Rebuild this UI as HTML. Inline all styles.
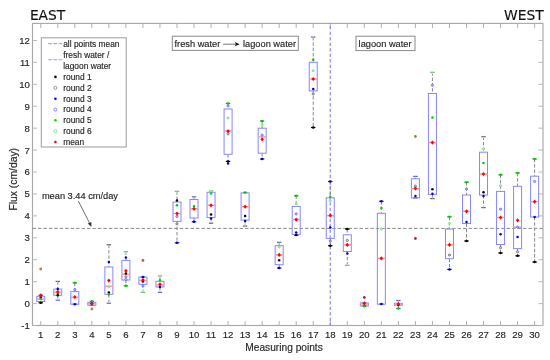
<!DOCTYPE html>
<html><head><meta charset="utf-8"><style>
html,body{margin:0;padding:0;background:#fff;}
svg{display:block;}
text{font-family:"Liberation Sans",Arial,sans-serif;fill:#262626;stroke:#262626;stroke-width:0.15px;}
.tk{font-size:9.6px;}
.lg{font-size:8.4px;}
.an{font-size:9.25px;}
.lab{font-size:10.1px;}
.big{font-size:14.4px;fill:#111;stroke:#111;stroke-width:0.15px;font-family:"DejaVu Sans",sans-serif;}
</style></head><body>
<svg width="550" height="360" viewBox="0 0 550 360">
<rect width="550" height="360" fill="#fff"/>
<rect x="32.5" y="23.4" width="510.5" height="302.1" fill="#fff" stroke="#a8a8a8" stroke-width="1.15"/>
<line x1="32.5" y1="325.53" x2="37.0" y2="325.53" stroke="#b8b8b8" stroke-width="1"/>
<line x1="543.0" y1="325.53" x2="538.5" y2="325.53" stroke="#b8b8b8" stroke-width="1"/>
<text x="29.9" y="328.98" text-anchor="end" class="tk">-1</text>
<line x1="32.5" y1="303.60" x2="37.0" y2="303.60" stroke="#b8b8b8" stroke-width="1"/>
<line x1="543.0" y1="303.60" x2="538.5" y2="303.60" stroke="#b8b8b8" stroke-width="1"/>
<text x="29.9" y="307.05" text-anchor="end" class="tk">0</text>
<line x1="32.5" y1="281.67" x2="37.0" y2="281.67" stroke="#b8b8b8" stroke-width="1"/>
<line x1="543.0" y1="281.67" x2="538.5" y2="281.67" stroke="#b8b8b8" stroke-width="1"/>
<text x="29.9" y="285.12" text-anchor="end" class="tk">1</text>
<line x1="32.5" y1="259.74" x2="37.0" y2="259.74" stroke="#b8b8b8" stroke-width="1"/>
<line x1="543.0" y1="259.74" x2="538.5" y2="259.74" stroke="#b8b8b8" stroke-width="1"/>
<text x="29.9" y="263.19" text-anchor="end" class="tk">2</text>
<line x1="32.5" y1="237.81" x2="37.0" y2="237.81" stroke="#b8b8b8" stroke-width="1"/>
<line x1="543.0" y1="237.81" x2="538.5" y2="237.81" stroke="#b8b8b8" stroke-width="1"/>
<text x="29.9" y="241.26" text-anchor="end" class="tk">3</text>
<line x1="32.5" y1="215.88" x2="37.0" y2="215.88" stroke="#b8b8b8" stroke-width="1"/>
<line x1="543.0" y1="215.88" x2="538.5" y2="215.88" stroke="#b8b8b8" stroke-width="1"/>
<text x="29.9" y="219.33" text-anchor="end" class="tk">4</text>
<line x1="32.5" y1="193.95" x2="37.0" y2="193.95" stroke="#b8b8b8" stroke-width="1"/>
<line x1="543.0" y1="193.95" x2="538.5" y2="193.95" stroke="#b8b8b8" stroke-width="1"/>
<text x="29.9" y="197.40" text-anchor="end" class="tk">5</text>
<line x1="32.5" y1="172.02" x2="37.0" y2="172.02" stroke="#b8b8b8" stroke-width="1"/>
<line x1="543.0" y1="172.02" x2="538.5" y2="172.02" stroke="#b8b8b8" stroke-width="1"/>
<text x="29.9" y="175.47" text-anchor="end" class="tk">6</text>
<line x1="32.5" y1="150.09" x2="37.0" y2="150.09" stroke="#b8b8b8" stroke-width="1"/>
<line x1="543.0" y1="150.09" x2="538.5" y2="150.09" stroke="#b8b8b8" stroke-width="1"/>
<text x="29.9" y="153.54" text-anchor="end" class="tk">7</text>
<line x1="32.5" y1="128.16" x2="37.0" y2="128.16" stroke="#b8b8b8" stroke-width="1"/>
<line x1="543.0" y1="128.16" x2="538.5" y2="128.16" stroke="#b8b8b8" stroke-width="1"/>
<text x="29.9" y="131.61" text-anchor="end" class="tk">8</text>
<line x1="32.5" y1="106.23" x2="37.0" y2="106.23" stroke="#b8b8b8" stroke-width="1"/>
<line x1="543.0" y1="106.23" x2="538.5" y2="106.23" stroke="#b8b8b8" stroke-width="1"/>
<text x="29.9" y="109.68" text-anchor="end" class="tk">9</text>
<line x1="32.5" y1="84.30" x2="37.0" y2="84.30" stroke="#b8b8b8" stroke-width="1"/>
<line x1="543.0" y1="84.30" x2="538.5" y2="84.30" stroke="#b8b8b8" stroke-width="1"/>
<text x="29.9" y="87.75" text-anchor="end" class="tk">10</text>
<line x1="32.5" y1="62.37" x2="37.0" y2="62.37" stroke="#b8b8b8" stroke-width="1"/>
<line x1="543.0" y1="62.37" x2="538.5" y2="62.37" stroke="#b8b8b8" stroke-width="1"/>
<text x="29.9" y="65.82" text-anchor="end" class="tk">11</text>
<line x1="32.5" y1="40.44" x2="37.0" y2="40.44" stroke="#b8b8b8" stroke-width="1"/>
<line x1="543.0" y1="40.44" x2="538.5" y2="40.44" stroke="#b8b8b8" stroke-width="1"/>
<text x="29.9" y="43.89" text-anchor="end" class="tk">12</text>
<line x1="40.75" y1="325.5" x2="40.75" y2="321.0" stroke="#b0b0b0" stroke-width="1"/>
<line x1="40.75" y1="23.4" x2="40.75" y2="27.9" stroke="#b0b0b0" stroke-width="1"/>
<text x="40.75" y="338.1" text-anchor="middle" class="tk">1</text>
<line x1="57.78" y1="325.5" x2="57.78" y2="321.0" stroke="#b0b0b0" stroke-width="1"/>
<line x1="57.78" y1="23.4" x2="57.78" y2="27.9" stroke="#b0b0b0" stroke-width="1"/>
<text x="57.78" y="338.1" text-anchor="middle" class="tk">2</text>
<line x1="74.81" y1="325.5" x2="74.81" y2="321.0" stroke="#b0b0b0" stroke-width="1"/>
<line x1="74.81" y1="23.4" x2="74.81" y2="27.9" stroke="#b0b0b0" stroke-width="1"/>
<text x="74.81" y="338.1" text-anchor="middle" class="tk">3</text>
<line x1="91.84" y1="325.5" x2="91.84" y2="321.0" stroke="#b0b0b0" stroke-width="1"/>
<line x1="91.84" y1="23.4" x2="91.84" y2="27.9" stroke="#b0b0b0" stroke-width="1"/>
<text x="91.84" y="338.1" text-anchor="middle" class="tk">4</text>
<line x1="108.87" y1="325.5" x2="108.87" y2="321.0" stroke="#b0b0b0" stroke-width="1"/>
<line x1="108.87" y1="23.4" x2="108.87" y2="27.9" stroke="#b0b0b0" stroke-width="1"/>
<text x="108.87" y="338.1" text-anchor="middle" class="tk">5</text>
<line x1="125.90" y1="325.5" x2="125.90" y2="321.0" stroke="#b0b0b0" stroke-width="1"/>
<line x1="125.90" y1="23.4" x2="125.90" y2="27.9" stroke="#b0b0b0" stroke-width="1"/>
<text x="125.90" y="338.1" text-anchor="middle" class="tk">6</text>
<line x1="142.93" y1="325.5" x2="142.93" y2="321.0" stroke="#b0b0b0" stroke-width="1"/>
<line x1="142.93" y1="23.4" x2="142.93" y2="27.9" stroke="#b0b0b0" stroke-width="1"/>
<text x="142.93" y="338.1" text-anchor="middle" class="tk">7</text>
<line x1="159.96" y1="325.5" x2="159.96" y2="321.0" stroke="#b0b0b0" stroke-width="1"/>
<line x1="159.96" y1="23.4" x2="159.96" y2="27.9" stroke="#b0b0b0" stroke-width="1"/>
<text x="159.96" y="338.1" text-anchor="middle" class="tk">8</text>
<line x1="176.99" y1="325.5" x2="176.99" y2="321.0" stroke="#b0b0b0" stroke-width="1"/>
<line x1="176.99" y1="23.4" x2="176.99" y2="27.9" stroke="#b0b0b0" stroke-width="1"/>
<text x="176.99" y="338.1" text-anchor="middle" class="tk">9</text>
<line x1="194.02" y1="325.5" x2="194.02" y2="321.0" stroke="#b0b0b0" stroke-width="1"/>
<line x1="194.02" y1="23.4" x2="194.02" y2="27.9" stroke="#b0b0b0" stroke-width="1"/>
<text x="194.02" y="338.1" text-anchor="middle" class="tk">10</text>
<line x1="211.05" y1="325.5" x2="211.05" y2="321.0" stroke="#b0b0b0" stroke-width="1"/>
<line x1="211.05" y1="23.4" x2="211.05" y2="27.9" stroke="#b0b0b0" stroke-width="1"/>
<text x="211.05" y="338.1" text-anchor="middle" class="tk">11</text>
<line x1="228.08" y1="325.5" x2="228.08" y2="321.0" stroke="#b0b0b0" stroke-width="1"/>
<line x1="228.08" y1="23.4" x2="228.08" y2="27.9" stroke="#b0b0b0" stroke-width="1"/>
<text x="228.08" y="338.1" text-anchor="middle" class="tk">12</text>
<line x1="245.11" y1="325.5" x2="245.11" y2="321.0" stroke="#b0b0b0" stroke-width="1"/>
<line x1="245.11" y1="23.4" x2="245.11" y2="27.9" stroke="#b0b0b0" stroke-width="1"/>
<text x="245.11" y="338.1" text-anchor="middle" class="tk">13</text>
<line x1="262.14" y1="325.5" x2="262.14" y2="321.0" stroke="#b0b0b0" stroke-width="1"/>
<line x1="262.14" y1="23.4" x2="262.14" y2="27.9" stroke="#b0b0b0" stroke-width="1"/>
<text x="262.14" y="338.1" text-anchor="middle" class="tk">14</text>
<line x1="279.17" y1="325.5" x2="279.17" y2="321.0" stroke="#b0b0b0" stroke-width="1"/>
<line x1="279.17" y1="23.4" x2="279.17" y2="27.9" stroke="#b0b0b0" stroke-width="1"/>
<text x="279.17" y="338.1" text-anchor="middle" class="tk">15</text>
<line x1="296.20" y1="325.5" x2="296.20" y2="321.0" stroke="#b0b0b0" stroke-width="1"/>
<line x1="296.20" y1="23.4" x2="296.20" y2="27.9" stroke="#b0b0b0" stroke-width="1"/>
<text x="296.20" y="338.1" text-anchor="middle" class="tk">16</text>
<line x1="313.23" y1="325.5" x2="313.23" y2="321.0" stroke="#b0b0b0" stroke-width="1"/>
<line x1="313.23" y1="23.4" x2="313.23" y2="27.9" stroke="#b0b0b0" stroke-width="1"/>
<text x="313.23" y="338.1" text-anchor="middle" class="tk">17</text>
<line x1="330.26" y1="325.5" x2="330.26" y2="321.0" stroke="#b0b0b0" stroke-width="1"/>
<line x1="330.26" y1="23.4" x2="330.26" y2="27.9" stroke="#b0b0b0" stroke-width="1"/>
<text x="330.26" y="338.1" text-anchor="middle" class="tk">18</text>
<line x1="347.29" y1="325.5" x2="347.29" y2="321.0" stroke="#b0b0b0" stroke-width="1"/>
<line x1="347.29" y1="23.4" x2="347.29" y2="27.9" stroke="#b0b0b0" stroke-width="1"/>
<text x="347.29" y="338.1" text-anchor="middle" class="tk">19</text>
<line x1="364.32" y1="325.5" x2="364.32" y2="321.0" stroke="#b0b0b0" stroke-width="1"/>
<line x1="364.32" y1="23.4" x2="364.32" y2="27.9" stroke="#b0b0b0" stroke-width="1"/>
<text x="364.32" y="338.1" text-anchor="middle" class="tk">20</text>
<line x1="381.35" y1="325.5" x2="381.35" y2="321.0" stroke="#b0b0b0" stroke-width="1"/>
<line x1="381.35" y1="23.4" x2="381.35" y2="27.9" stroke="#b0b0b0" stroke-width="1"/>
<text x="381.35" y="338.1" text-anchor="middle" class="tk">21</text>
<line x1="398.38" y1="325.5" x2="398.38" y2="321.0" stroke="#b0b0b0" stroke-width="1"/>
<line x1="398.38" y1="23.4" x2="398.38" y2="27.9" stroke="#b0b0b0" stroke-width="1"/>
<text x="398.38" y="338.1" text-anchor="middle" class="tk">22</text>
<line x1="415.41" y1="325.5" x2="415.41" y2="321.0" stroke="#b0b0b0" stroke-width="1"/>
<line x1="415.41" y1="23.4" x2="415.41" y2="27.9" stroke="#b0b0b0" stroke-width="1"/>
<text x="415.41" y="338.1" text-anchor="middle" class="tk">23</text>
<line x1="432.44" y1="325.5" x2="432.44" y2="321.0" stroke="#b0b0b0" stroke-width="1"/>
<line x1="432.44" y1="23.4" x2="432.44" y2="27.9" stroke="#b0b0b0" stroke-width="1"/>
<text x="432.44" y="338.1" text-anchor="middle" class="tk">24</text>
<line x1="449.47" y1="325.5" x2="449.47" y2="321.0" stroke="#b0b0b0" stroke-width="1"/>
<line x1="449.47" y1="23.4" x2="449.47" y2="27.9" stroke="#b0b0b0" stroke-width="1"/>
<text x="449.47" y="338.1" text-anchor="middle" class="tk">25</text>
<line x1="466.50" y1="325.5" x2="466.50" y2="321.0" stroke="#b0b0b0" stroke-width="1"/>
<line x1="466.50" y1="23.4" x2="466.50" y2="27.9" stroke="#b0b0b0" stroke-width="1"/>
<text x="466.50" y="338.1" text-anchor="middle" class="tk">26</text>
<line x1="483.53" y1="325.5" x2="483.53" y2="321.0" stroke="#b0b0b0" stroke-width="1"/>
<line x1="483.53" y1="23.4" x2="483.53" y2="27.9" stroke="#b0b0b0" stroke-width="1"/>
<text x="483.53" y="338.1" text-anchor="middle" class="tk">27</text>
<line x1="500.56" y1="325.5" x2="500.56" y2="321.0" stroke="#b0b0b0" stroke-width="1"/>
<line x1="500.56" y1="23.4" x2="500.56" y2="27.9" stroke="#b0b0b0" stroke-width="1"/>
<text x="500.56" y="338.1" text-anchor="middle" class="tk">28</text>
<line x1="517.59" y1="325.5" x2="517.59" y2="321.0" stroke="#b0b0b0" stroke-width="1"/>
<line x1="517.59" y1="23.4" x2="517.59" y2="27.9" stroke="#b0b0b0" stroke-width="1"/>
<text x="517.59" y="338.1" text-anchor="middle" class="tk">29</text>
<line x1="534.62" y1="325.5" x2="534.62" y2="321.0" stroke="#b0b0b0" stroke-width="1"/>
<line x1="534.62" y1="23.4" x2="534.62" y2="27.9" stroke="#b0b0b0" stroke-width="1"/>
<text x="534.62" y="338.1" text-anchor="middle" class="tk">30</text>
<line x1="32.5" y1="228.4" x2="543.0" y2="228.4" stroke="#8a8a8a" stroke-width="1" stroke-dasharray="3.45 2.0"/>
<line x1="330.2" y1="23.4" x2="330.2" y2="325.5" stroke="#6c6cf4" stroke-width="0.95" stroke-dasharray="3.3 2.2" stroke-dashoffset="2.7"/>
<line x1="40.75" y1="295.3" x2="40.75" y2="296.3" stroke="#888888" stroke-width="1" stroke-dasharray="3.4 1.9"/>
<line x1="40.75" y1="301.5" x2="40.75" y2="302.8" stroke="#888888" stroke-width="1" stroke-dasharray="3.4 1.9"/>
<line x1="38.55" y1="295.3" x2="42.95" y2="295.3" stroke="#4a4a4a" stroke-width="1.2"/>
<line x1="38.55" y1="302.8" x2="42.95" y2="302.8" stroke="#000000" stroke-width="1.2"/>
<rect x="36.75" y="296.3" width="8.0" height="5.20" fill="none" stroke="#8686ff" stroke-width="1"/>
<line x1="36.75" y1="299.1" x2="44.75" y2="299.1" stroke="#ff9a9a" stroke-width="1.5"/>
<circle cx="40.75" cy="269.0" r="1.4" fill="#c08040"/>
<circle cx="40.75" cy="297.60" r="1.25" fill="#0000d0"/>
<circle cx="40.75" cy="299.10" r="1.25" fill="#00cc00"/>
<circle cx="40.75" cy="302.80" r="1.25" fill="#000000"/>
<path d="M40.75 293.20 L42.50 295.30 L40.75 297.40 L39.00 295.30 Z" fill="#ff0000"/>
<line x1="57.78" y1="281.4" x2="57.78" y2="289.1" stroke="#888888" stroke-width="1" stroke-dasharray="3.4 1.9"/>
<line x1="57.78" y1="295.3" x2="57.78" y2="300.2" stroke="#888888" stroke-width="1" stroke-dasharray="3.4 1.9"/>
<line x1="55.58" y1="281.4" x2="59.98" y2="281.4" stroke="#606060" stroke-width="1.2"/>
<line x1="55.58" y1="300.2" x2="59.98" y2="300.2" stroke="#6060c8" stroke-width="1.2"/>
<rect x="53.78" y="289.1" width="8.0" height="6.20" fill="none" stroke="#8686ff" stroke-width="1"/>
<line x1="53.78" y1="292.0" x2="61.78" y2="292.0" stroke="#ff9a9a" stroke-width="1.5"/>
<circle cx="57.78" cy="289.00" r="1.25" fill="#0000d0"/>
<circle cx="57.78" cy="293.90" r="1.25" fill="#00cc00"/>
<circle cx="57.78" cy="295.30" r="1.25" fill="#000000"/>
<circle cx="57.78" cy="299.20" r="0.9" fill="#c0c0ff"/>
<circle cx="57.78" cy="282.40" r="0.9" fill="#c8c8c8"/>
<path d="M57.78 289.80 L59.53 291.90 L57.78 294.00 L56.03 291.90 Z" fill="#ff0000"/>
<line x1="74.81" y1="282.8" x2="74.81" y2="291.6" stroke="#888888" stroke-width="1" stroke-dasharray="3.4 1.9"/>
<line x1="72.61" y1="282.8" x2="77.01" y2="282.8" stroke="#10a010" stroke-width="1.2"/>
<line x1="72.61" y1="304.2" x2="77.01" y2="304.2" stroke="#1010a0" stroke-width="1.2"/>
<rect x="70.81" y="291.6" width="8.0" height="12.60" fill="none" stroke="#8686ff" stroke-width="1"/>
<line x1="70.81" y1="297.4" x2="78.81" y2="297.4" stroke="#ff9a9a" stroke-width="1.5"/>
<circle cx="74.81" cy="282.80" r="1.25" fill="#00cc00"/>
<circle cx="74.81" cy="289.60" r="1.1" fill="#c0c0ff" stroke="#6a6aff" stroke-width="0.9"/>
<circle cx="74.81" cy="304.20" r="1.25" fill="#0000d0"/>
<path d="M74.81 294.90 L76.56 297.00 L74.81 299.10 L73.06 297.00 Z" fill="#ff0000"/>
<line x1="91.84" y1="301.3" x2="91.84" y2="302.3" stroke="#888888" stroke-width="1" stroke-dasharray="3.4 1.9"/>
<line x1="89.64" y1="301.3" x2="94.04" y2="301.3" stroke="#10a010" stroke-width="1.2"/>
<line x1="89.64" y1="305.2" x2="94.04" y2="305.2" stroke="#4a4a4a" stroke-width="1.2"/>
<rect x="87.84" y="302.3" width="8.0" height="2.90" fill="none" stroke="#8686ff" stroke-width="1"/>
<line x1="87.84" y1="303.6" x2="95.84" y2="303.6" stroke="#ff9a9a" stroke-width="1.5"/>
<circle cx="91.84" cy="309.0" r="1.4" fill="#c08040"/>
<circle cx="91.84" cy="301.30" r="1.25" fill="#00cc00"/>
<circle cx="91.84" cy="303.60" r="1.25" fill="#0000d0"/>
<path d="M91.84 301.50 L93.59 303.60 L91.84 305.70 L90.09 303.60 Z" fill="#ff0000"/>
<line x1="108.87" y1="244.8" x2="108.87" y2="267.0" stroke="#888888" stroke-width="1" stroke-dasharray="3.4 1.9"/>
<line x1="108.87" y1="294.3" x2="108.87" y2="303.2" stroke="#888888" stroke-width="1" stroke-dasharray="3.4 1.9"/>
<line x1="106.67" y1="244.8" x2="111.07" y2="244.8" stroke="#606060" stroke-width="1.2"/>
<line x1="106.67" y1="303.2" x2="111.07" y2="303.2" stroke="#6060c8" stroke-width="1.2"/>
<rect x="104.87" y="267.0" width="8.0" height="27.30" fill="none" stroke="#8686ff" stroke-width="1"/>
<line x1="104.87" y1="286.2" x2="112.87" y2="286.2" stroke="#ff9a9a" stroke-width="1.5"/>
<circle cx="108.87" cy="245.80" r="0.9" fill="#c8c8c8"/>
<circle cx="108.87" cy="262.00" r="1.25" fill="#0000d0"/>
<circle cx="108.87" cy="286.80" r="1.1" fill="#b8f0b8" stroke="#80e080" stroke-width="0.9"/>
<circle cx="108.87" cy="292.60" r="1.25" fill="#000000"/>
<circle cx="108.87" cy="294.60" r="1.25" fill="#00cc00"/>
<circle cx="108.87" cy="302.20" r="0.9" fill="#c0c0ff"/>
<path d="M108.87 278.50 L110.62 280.60 L108.87 282.70 L107.12 280.60 Z" fill="#ff0000"/>
<line x1="125.90" y1="251.7" x2="125.90" y2="260.4" stroke="#888888" stroke-width="1" stroke-dasharray="3.4 1.9"/>
<line x1="125.90" y1="280.0" x2="125.90" y2="285.8" stroke="#888888" stroke-width="1" stroke-dasharray="3.4 1.9"/>
<line x1="123.70" y1="251.7" x2="128.10" y2="251.7" stroke="#60c060" stroke-width="1.2"/>
<line x1="123.70" y1="285.8" x2="128.10" y2="285.8" stroke="#10a010" stroke-width="1.2"/>
<rect x="121.90" y="260.4" width="8.0" height="19.60" fill="none" stroke="#8686ff" stroke-width="1"/>
<line x1="121.90" y1="274.3" x2="129.90" y2="274.3" stroke="#ff9a9a" stroke-width="1.5"/>
<circle cx="125.90" cy="252.70" r="0.9" fill="#b8f0b8"/>
<circle cx="125.90" cy="257.50" r="1.25" fill="#0000d0"/>
<circle cx="125.90" cy="273.60" r="1.25" fill="#000000"/>
<circle cx="125.90" cy="276.80" r="1.1" fill="#c8c8c8" stroke="#7a7a7a" stroke-width="0.9"/>
<circle cx="125.90" cy="279.60" r="1.1" fill="#c0c0ff" stroke="#6a6aff" stroke-width="0.9"/>
<circle cx="125.90" cy="285.80" r="1.25" fill="#00cc00"/>
<path d="M125.90 268.70 L127.65 270.80 L125.90 272.90 L124.15 270.80 Z" fill="#ff0000"/>
<line x1="142.93" y1="284.3" x2="142.93" y2="292.4" stroke="#888888" stroke-width="1" stroke-dasharray="3.4 1.9"/>
<line x1="140.73" y1="277.1" x2="145.13" y2="277.1" stroke="#1010a0" stroke-width="1.2"/>
<line x1="140.73" y1="292.4" x2="145.13" y2="292.4" stroke="#60c060" stroke-width="1.2"/>
<rect x="138.93" y="277.1" width="8.0" height="7.20" fill="none" stroke="#8686ff" stroke-width="1"/>
<line x1="138.93" y1="280.5" x2="146.93" y2="280.5" stroke="#ff9a9a" stroke-width="1.5"/>
<circle cx="142.93" cy="260.4" r="1.4" fill="#d04848"/>
<circle cx="142.93" cy="277.10" r="1.25" fill="#0000d0"/>
<circle cx="142.93" cy="281.60" r="1.25" fill="#000000"/>
<circle cx="142.93" cy="285.80" r="1.1" fill="#c0c0ff" stroke="#6a6aff" stroke-width="0.9"/>
<circle cx="142.93" cy="291.40" r="0.9" fill="#b8f0b8"/>
<path d="M142.93 277.80 L144.68 279.90 L142.93 282.00 L141.18 279.90 Z" fill="#ff0000"/>
<line x1="159.96" y1="275.9" x2="159.96" y2="281.3" stroke="#888888" stroke-width="1" stroke-dasharray="3.4 1.9"/>
<line x1="159.96" y1="287.0" x2="159.96" y2="292.4" stroke="#888888" stroke-width="1" stroke-dasharray="3.4 1.9"/>
<line x1="157.76" y1="275.9" x2="162.16" y2="275.9" stroke="#60c060" stroke-width="1.2"/>
<line x1="157.76" y1="292.4" x2="162.16" y2="292.4" stroke="#6060c8" stroke-width="1.2"/>
<rect x="155.96" y="281.3" width="8.0" height="5.70" fill="none" stroke="#8686ff" stroke-width="1"/>
<line x1="155.96" y1="285.0" x2="163.96" y2="285.0" stroke="#ff9a9a" stroke-width="1.5"/>
<circle cx="159.96" cy="276.90" r="0.9" fill="#b8f0b8"/>
<circle cx="159.96" cy="280.30" r="1.25" fill="#00cc00"/>
<circle cx="159.96" cy="291.40" r="0.9" fill="#c0c0ff"/>
<circle cx="159.96" cy="287.00" r="1.25" fill="#0000d0"/>
<path d="M159.96 282.20 L161.71 284.30 L159.96 286.40 L158.21 284.30 Z" fill="#ff0000"/>
<line x1="176.99" y1="191.3" x2="176.99" y2="202.0" stroke="#888888" stroke-width="1" stroke-dasharray="3.4 1.9"/>
<line x1="176.99" y1="221.4" x2="176.99" y2="242.8" stroke="#888888" stroke-width="1" stroke-dasharray="3.4 1.9"/>
<line x1="174.79" y1="191.3" x2="179.19" y2="191.3" stroke="#60c060" stroke-width="1.2"/>
<line x1="174.79" y1="242.8" x2="179.19" y2="242.8" stroke="#1010a0" stroke-width="1.2"/>
<rect x="172.99" y="202.0" width="8.0" height="19.40" fill="none" stroke="#8686ff" stroke-width="1"/>
<line x1="172.99" y1="213.5" x2="180.99" y2="213.5" stroke="#ff9a9a" stroke-width="1.5"/>
<circle cx="176.99" cy="192.30" r="0.9" fill="#b8f0b8"/>
<circle cx="176.99" cy="200.40" r="1.25" fill="#000000"/>
<circle cx="176.99" cy="205.30" r="1.25" fill="#00cc00"/>
<circle cx="176.99" cy="216.40" r="1.1" fill="#c0c0ff" stroke="#6a6aff" stroke-width="0.9"/>
<circle cx="176.99" cy="223.80" r="1.1" fill="#c8c8c8" stroke="#7a7a7a" stroke-width="0.9"/>
<circle cx="176.99" cy="242.80" r="1.25" fill="#0000d0"/>
<path d="M176.99 211.40 L178.74 213.50 L176.99 215.60 L175.24 213.50 Z" fill="#ff0000"/>
<line x1="194.02" y1="196.9" x2="194.02" y2="199.5" stroke="#888888" stroke-width="1" stroke-dasharray="3.4 1.9"/>
<line x1="194.02" y1="218.0" x2="194.02" y2="221.8" stroke="#888888" stroke-width="1" stroke-dasharray="3.4 1.9"/>
<line x1="191.82" y1="196.9" x2="196.22" y2="196.9" stroke="#6060c8" stroke-width="1.2"/>
<line x1="191.82" y1="221.8" x2="196.22" y2="221.8" stroke="#1010a0" stroke-width="1.2"/>
<rect x="190.02" y="199.5" width="8.0" height="18.50" fill="none" stroke="#8686ff" stroke-width="1"/>
<line x1="190.02" y1="208.8" x2="198.02" y2="208.8" stroke="#ff9a9a" stroke-width="1.5"/>
<circle cx="194.02" cy="197.90" r="0.9" fill="#c0c0ff"/>
<circle cx="194.02" cy="206.30" r="1.25" fill="#00cc00"/>
<circle cx="194.02" cy="221.80" r="1.25" fill="#0000d0"/>
<path d="M194.02 206.70 L195.77 208.80 L194.02 210.90 L192.27 208.80 Z" fill="#ff0000"/>
<line x1="211.05" y1="191.0" x2="211.05" y2="192.3" stroke="#888888" stroke-width="1" stroke-dasharray="3.4 1.9"/>
<line x1="211.05" y1="217.5" x2="211.05" y2="223.2" stroke="#888888" stroke-width="1" stroke-dasharray="3.4 1.9"/>
<line x1="208.85" y1="191.0" x2="213.25" y2="191.0" stroke="#60c060" stroke-width="1.2"/>
<line x1="208.85" y1="223.2" x2="213.25" y2="223.2" stroke="#606060" stroke-width="1.2"/>
<rect x="207.05" y="192.3" width="8.0" height="25.20" fill="none" stroke="#8686ff" stroke-width="1"/>
<line x1="207.05" y1="205.3" x2="215.05" y2="205.3" stroke="#ff9a9a" stroke-width="1.5"/>
<circle cx="211.05" cy="192.00" r="0.9" fill="#b8f0b8"/>
<circle cx="211.05" cy="193.60" r="1.25" fill="#00cc00"/>
<circle cx="211.05" cy="214.60" r="1.25" fill="#000000"/>
<circle cx="211.05" cy="218.50" r="1.25" fill="#0000d0"/>
<circle cx="211.05" cy="222.20" r="0.9" fill="#c8c8c8"/>
<path d="M211.05 203.20 L212.80 205.30 L211.05 207.40 L209.30 205.30 Z" fill="#ff0000"/>
<line x1="228.08" y1="103.4" x2="228.08" y2="109.0" stroke="#888888" stroke-width="1" stroke-dasharray="3.4 1.9"/>
<line x1="228.08" y1="154.3" x2="228.08" y2="161.4" stroke="#888888" stroke-width="1" stroke-dasharray="3.4 1.9"/>
<line x1="225.88" y1="103.4" x2="230.28" y2="103.4" stroke="#10a010" stroke-width="1.2"/>
<line x1="225.88" y1="161.4" x2="230.28" y2="161.4" stroke="#000000" stroke-width="1.2"/>
<rect x="224.08" y="109.0" width="8.0" height="45.30" fill="none" stroke="#8686ff" stroke-width="1"/>
<line x1="224.08" y1="131.0" x2="232.08" y2="131.0" stroke="#ff9a9a" stroke-width="1.5"/>
<circle cx="228.08" cy="103.40" r="1.25" fill="#00cc00"/>
<circle cx="228.08" cy="105.80" r="1.1" fill="#c0c0ff" stroke="#6a6aff" stroke-width="0.9"/>
<circle cx="228.08" cy="118.00" r="1.1" fill="#b8f0b8" stroke="#80e080" stroke-width="0.9"/>
<circle cx="228.08" cy="133.90" r="1.1" fill="#c8c8c8" stroke="#7a7a7a" stroke-width="0.9"/>
<circle cx="228.08" cy="161.40" r="1.25" fill="#000000"/>
<circle cx="228.08" cy="163.60" r="1.25" fill="#0000d0"/>
<path d="M228.08 129.10 L229.83 131.20 L228.08 133.30 L226.33 131.20 Z" fill="#ff0000"/>
<line x1="245.11" y1="192.5" x2="245.11" y2="192.9" stroke="#888888" stroke-width="1" stroke-dasharray="3.4 1.9"/>
<line x1="245.11" y1="220.1" x2="245.11" y2="226.0" stroke="#888888" stroke-width="1" stroke-dasharray="3.4 1.9"/>
<line x1="242.91" y1="192.5" x2="247.31" y2="192.5" stroke="#10a010" stroke-width="1.2"/>
<line x1="242.91" y1="226.0" x2="247.31" y2="226.0" stroke="#606060" stroke-width="1.2"/>
<rect x="241.11" y="192.9" width="8.0" height="27.20" fill="none" stroke="#8686ff" stroke-width="1"/>
<line x1="241.11" y1="206.7" x2="249.11" y2="206.7" stroke="#ff9a9a" stroke-width="1.5"/>
<circle cx="245.11" cy="192.50" r="1.25" fill="#00cc00"/>
<circle cx="245.11" cy="215.90" r="1.25" fill="#000000"/>
<circle cx="245.11" cy="221.10" r="1.25" fill="#0000d0"/>
<circle cx="245.11" cy="225.00" r="0.9" fill="#c8c8c8"/>
<path d="M245.11 204.60 L246.86 206.70 L245.11 208.80 L243.36 206.70 Z" fill="#ff0000"/>
<line x1="262.14" y1="121.0" x2="262.14" y2="128.2" stroke="#888888" stroke-width="1" stroke-dasharray="3.4 1.9"/>
<line x1="262.14" y1="153.2" x2="262.14" y2="159.0" stroke="#888888" stroke-width="1" stroke-dasharray="3.4 1.9"/>
<line x1="259.94" y1="121.0" x2="264.34" y2="121.0" stroke="#10a010" stroke-width="1.2"/>
<line x1="259.94" y1="159.0" x2="264.34" y2="159.0" stroke="#1010a0" stroke-width="1.2"/>
<rect x="258.14" y="128.2" width="8.0" height="25.00" fill="none" stroke="#8686ff" stroke-width="1"/>
<line x1="258.14" y1="136.9" x2="266.14" y2="136.9" stroke="#ff9a9a" stroke-width="1.5"/>
<circle cx="262.14" cy="121.00" r="1.25" fill="#00cc00"/>
<circle cx="262.14" cy="125.40" r="1.1" fill="#b8f0b8" stroke="#80e080" stroke-width="0.9"/>
<circle cx="262.14" cy="135.10" r="1.1" fill="#c0c0ff" stroke="#6a6aff" stroke-width="0.9"/>
<circle cx="262.14" cy="159.00" r="1.25" fill="#0000d0"/>
<path d="M262.14 137.20 L263.89 139.30 L262.14 141.40 L260.39 139.30 Z" fill="#ff0000"/>
<line x1="279.17" y1="242.3" x2="279.17" y2="245.7" stroke="#888888" stroke-width="1" stroke-dasharray="3.4 1.9"/>
<line x1="279.17" y1="264.7" x2="279.17" y2="268.1" stroke="#888888" stroke-width="1" stroke-dasharray="3.4 1.9"/>
<line x1="276.97" y1="242.3" x2="281.37" y2="242.3" stroke="#6060c8" stroke-width="1.2"/>
<line x1="276.97" y1="268.1" x2="281.37" y2="268.1" stroke="#1010a0" stroke-width="1.2"/>
<rect x="275.17" y="245.7" width="8.0" height="19.00" fill="none" stroke="#8686ff" stroke-width="1"/>
<line x1="275.17" y1="254.9" x2="283.17" y2="254.9" stroke="#ff9a9a" stroke-width="1.5"/>
<circle cx="279.17" cy="243.30" r="0.9" fill="#c0c0ff"/>
<circle cx="279.17" cy="247.00" r="1.1" fill="#b8f0b8" stroke="#80e080" stroke-width="0.9"/>
<circle cx="279.17" cy="260.20" r="1.25" fill="#000000"/>
<circle cx="279.17" cy="268.10" r="1.25" fill="#0000d0"/>
<path d="M279.17 252.80 L280.92 254.90 L279.17 257.00 L277.42 254.90 Z" fill="#ff0000"/>
<line x1="296.20" y1="195.8" x2="296.20" y2="206.4" stroke="#888888" stroke-width="1" stroke-dasharray="3.4 1.9"/>
<line x1="296.20" y1="234.4" x2="296.20" y2="235.1" stroke="#888888" stroke-width="1" stroke-dasharray="3.4 1.9"/>
<line x1="294.00" y1="195.8" x2="298.40" y2="195.8" stroke="#10a010" stroke-width="1.2"/>
<line x1="294.00" y1="235.1" x2="298.40" y2="235.1" stroke="#000000" stroke-width="1.2"/>
<rect x="292.20" y="206.4" width="8.0" height="28.00" fill="none" stroke="#8686ff" stroke-width="1"/>
<line x1="292.20" y1="219.6" x2="300.20" y2="219.6" stroke="#ff9a9a" stroke-width="1.5"/>
<circle cx="296.20" cy="195.80" r="1.25" fill="#00cc00"/>
<circle cx="296.20" cy="203.90" r="1.1" fill="#b8f0b8" stroke="#80e080" stroke-width="0.9"/>
<circle cx="296.20" cy="213.90" r="1.1" fill="#c0c0ff" stroke="#6a6aff" stroke-width="0.9"/>
<circle cx="296.20" cy="232.40" r="1.25" fill="#0000d0"/>
<circle cx="296.20" cy="235.10" r="1.25" fill="#000000"/>
<path d="M296.20 217.50 L297.95 219.60 L296.20 221.70 L294.45 219.60 Z" fill="#ff0000"/>
<line x1="313.23" y1="37.1" x2="313.23" y2="62.3" stroke="#888888" stroke-width="1" stroke-dasharray="3.4 1.9"/>
<line x1="313.23" y1="90.9" x2="313.23" y2="127.5" stroke="#888888" stroke-width="1" stroke-dasharray="3.4 1.9"/>
<line x1="311.03" y1="37.1" x2="315.43" y2="37.1" stroke="#6060c8" stroke-width="1.2"/>
<line x1="311.03" y1="127.5" x2="315.43" y2="127.5" stroke="#000000" stroke-width="1.2"/>
<rect x="309.23" y="62.3" width="8.0" height="28.60" fill="none" stroke="#8686ff" stroke-width="1"/>
<line x1="309.23" y1="79.0" x2="317.23" y2="79.0" stroke="#ff9a9a" stroke-width="1.5"/>
<circle cx="313.23" cy="38.10" r="0.9" fill="#c0c0ff"/>
<circle cx="313.23" cy="59.80" r="1.25" fill="#00cc00"/>
<circle cx="313.23" cy="70.70" r="1.1" fill="#b8f0b8" stroke="#80e080" stroke-width="0.9"/>
<circle cx="313.23" cy="89.00" r="1.25" fill="#0000d0"/>
<circle cx="313.23" cy="94.00" r="1.1" fill="#c8c8c8" stroke="#7a7a7a" stroke-width="0.9"/>
<circle cx="313.23" cy="127.50" r="1.25" fill="#000000"/>
<path d="M313.23 76.90 L314.98 79.00 L313.23 81.10 L311.48 79.00 Z" fill="#ff0000"/>
<line x1="330.26" y1="181.5" x2="330.26" y2="197.8" stroke="#888888" stroke-width="1" stroke-dasharray="3.4 1.9"/>
<line x1="330.26" y1="238.4" x2="330.26" y2="245.7" stroke="#888888" stroke-width="1" stroke-dasharray="3.4 1.9"/>
<line x1="328.06" y1="181.5" x2="332.46" y2="181.5" stroke="#1010a0" stroke-width="1.2"/>
<line x1="328.06" y1="245.7" x2="332.46" y2="245.7" stroke="#000000" stroke-width="1.2"/>
<rect x="326.26" y="197.8" width="8.0" height="40.60" fill="none" stroke="#8686ff" stroke-width="1"/>
<line x1="326.26" y1="215.7" x2="334.26" y2="215.7" stroke="#ff9a9a" stroke-width="1.5"/>
<circle cx="330.26" cy="181.50" r="1.25" fill="#0000d0"/>
<circle cx="330.26" cy="196.70" r="1.25" fill="#00cc00"/>
<circle cx="330.26" cy="200.70" r="1.1" fill="#b8f0b8" stroke="#80e080" stroke-width="0.9"/>
<circle cx="330.26" cy="227.40" r="1.25" fill="#0000d0"/>
<circle cx="330.26" cy="241.00" r="1.1" fill="#c8c8c8" stroke="#7a7a7a" stroke-width="0.9"/>
<circle cx="330.26" cy="245.70" r="1.25" fill="#000000"/>
<path d="M330.26 213.40 L332.01 215.50 L330.26 217.60 L328.51 215.50 Z" fill="#ff0000"/>
<line x1="347.29" y1="229.1" x2="347.29" y2="234.8" stroke="#888888" stroke-width="1" stroke-dasharray="3.4 1.9"/>
<line x1="347.29" y1="251.5" x2="347.29" y2="265.3" stroke="#888888" stroke-width="1" stroke-dasharray="3.4 1.9"/>
<line x1="345.09" y1="229.1" x2="349.49" y2="229.1" stroke="#000000" stroke-width="1.2"/>
<line x1="345.09" y1="265.3" x2="349.49" y2="265.3" stroke="#60c060" stroke-width="1.2"/>
<rect x="343.29" y="234.8" width="8.0" height="16.70" fill="none" stroke="#8686ff" stroke-width="1"/>
<line x1="343.29" y1="244.9" x2="351.29" y2="244.9" stroke="#ff9a9a" stroke-width="1.5"/>
<circle cx="347.29" cy="229.10" r="1.25" fill="#000000"/>
<circle cx="347.29" cy="240.40" r="1.1" fill="#c8c8c8" stroke="#7a7a7a" stroke-width="0.9"/>
<circle cx="347.29" cy="253.40" r="1.25" fill="#0000d0"/>
<circle cx="347.29" cy="264.30" r="0.9" fill="#b8f0b8"/>
<path d="M347.29 242.80 L349.04 244.90 L347.29 247.00 L345.54 244.90 Z" fill="#ff0000"/>
<line x1="362.12" y1="303.0" x2="366.52" y2="303.0" stroke="#4a4a4a" stroke-width="1.2"/>
<line x1="362.12" y1="306.0" x2="366.52" y2="306.0" stroke="#10a010" stroke-width="1.2"/>
<rect x="360.32" y="303.0" width="8.0" height="3.00" fill="none" stroke="#8686ff" stroke-width="1"/>
<line x1="360.32" y1="304.0" x2="368.32" y2="304.0" stroke="#ff9a9a" stroke-width="1.5"/>
<circle cx="364.32" cy="297.5" r="1.4" fill="#a03030"/>
<circle cx="364.32" cy="306.00" r="1.25" fill="#0000d0"/>
<circle cx="364.32" cy="306.00" r="1.25" fill="#00cc00"/>
<path d="M364.32 301.20 L366.07 303.30 L364.32 305.40 L362.57 303.30 Z" fill="#ff0000"/>
<line x1="381.35" y1="201.3" x2="381.35" y2="213.3" stroke="#888888" stroke-width="1" stroke-dasharray="3.4 1.9"/>
<line x1="379.15" y1="201.3" x2="383.55" y2="201.3" stroke="#1010a0" stroke-width="1.2"/>
<line x1="379.15" y1="304.2" x2="383.55" y2="304.2" stroke="#1010a0" stroke-width="1.2"/>
<rect x="377.35" y="213.3" width="8.0" height="90.90" fill="none" stroke="#8686ff" stroke-width="1"/>
<line x1="377.35" y1="258.3" x2="385.35" y2="258.3" stroke="#ff9a9a" stroke-width="1.5"/>
<circle cx="381.35" cy="201.30" r="1.25" fill="#0000d0"/>
<circle cx="381.35" cy="207.90" r="1.25" fill="#00cc00"/>
<circle cx="381.35" cy="229.00" r="1.1" fill="#b8f0b8" stroke="#80e080" stroke-width="0.9"/>
<circle cx="381.35" cy="304.00" r="1.25" fill="#0000d0"/>
<path d="M381.35 256.20 L383.10 258.30 L381.35 260.40 L379.60 258.30 Z" fill="#ff0000"/>
<line x1="398.38" y1="300.5" x2="398.38" y2="303.3" stroke="#888888" stroke-width="1" stroke-dasharray="3.4 1.9"/>
<line x1="398.38" y1="305.2" x2="398.38" y2="308.5" stroke="#888888" stroke-width="1" stroke-dasharray="3.4 1.9"/>
<line x1="396.18" y1="300.5" x2="400.58" y2="300.5" stroke="#6060c8" stroke-width="1.2"/>
<line x1="396.18" y1="308.5" x2="400.58" y2="308.5" stroke="#10a010" stroke-width="1.2"/>
<rect x="394.38" y="303.3" width="8.0" height="1.90" fill="none" stroke="#8686ff" stroke-width="1"/>
<line x1="394.38" y1="304.2" x2="402.38" y2="304.2" stroke="#ff9a9a" stroke-width="1.5"/>
<circle cx="398.38" cy="301.50" r="0.9" fill="#c0c0ff"/>
<circle cx="398.38" cy="305.00" r="1.25" fill="#0000d0"/>
<circle cx="398.38" cy="308.50" r="1.25" fill="#00cc00"/>
<path d="M398.38 301.90 L400.13 304.00 L398.38 306.10 L396.63 304.00 Z" fill="#ff0000"/>
<line x1="415.41" y1="176.4" x2="415.41" y2="178.8" stroke="#888888" stroke-width="1" stroke-dasharray="3.4 1.9"/>
<line x1="413.21" y1="176.4" x2="417.61" y2="176.4" stroke="#6060c8" stroke-width="1.2"/>
<line x1="413.21" y1="197.9" x2="417.61" y2="197.9" stroke="#4a4a4a" stroke-width="1.2"/>
<rect x="411.41" y="178.8" width="8.0" height="19.10" fill="none" stroke="#8686ff" stroke-width="1"/>
<line x1="411.41" y1="188.5" x2="419.41" y2="188.5" stroke="#ff9a9a" stroke-width="1.5"/>
<circle cx="415.41" cy="136.5" r="1.4" fill="#909030"/>
<circle cx="415.41" cy="238.5" r="1.4" fill="#a03030"/>
<circle cx="415.41" cy="177.40" r="0.9" fill="#c0c0ff"/>
<circle cx="415.41" cy="186.00" r="1.1" fill="#c8c8c8" stroke="#7a7a7a" stroke-width="0.9"/>
<circle cx="415.41" cy="196.00" r="1.25" fill="#0000d0"/>
<path d="M415.41 186.40 L417.16 188.50 L415.41 190.60 L413.66 188.50 Z" fill="#ff0000"/>
<line x1="432.44" y1="72.3" x2="432.44" y2="93.5" stroke="#888888" stroke-width="1" stroke-dasharray="3.4 1.9"/>
<line x1="432.44" y1="194.4" x2="432.44" y2="198.6" stroke="#888888" stroke-width="1" stroke-dasharray="3.4 1.9"/>
<line x1="430.24" y1="72.3" x2="434.64" y2="72.3" stroke="#60c060" stroke-width="1.2"/>
<line x1="430.24" y1="198.6" x2="434.64" y2="198.6" stroke="#606060" stroke-width="1.2"/>
<rect x="428.44" y="93.5" width="8.0" height="100.90" fill="none" stroke="#8686ff" stroke-width="1"/>
<line x1="428.44" y1="142.6" x2="436.44" y2="142.6" stroke="#ff9a9a" stroke-width="1.5"/>
<circle cx="432.44" cy="73.30" r="0.9" fill="#b8f0b8"/>
<circle cx="432.44" cy="85.30" r="1.1" fill="#c0c0ff" stroke="#6a6aff" stroke-width="0.9"/>
<circle cx="432.44" cy="117.40" r="1.25" fill="#00cc00"/>
<circle cx="432.44" cy="189.20" r="1.25" fill="#000000"/>
<circle cx="432.44" cy="193.80" r="1.25" fill="#0000d0"/>
<circle cx="432.44" cy="197.60" r="0.9" fill="#c8c8c8"/>
<path d="M432.44 140.50 L434.19 142.60 L432.44 144.70 L430.69 142.60 Z" fill="#ff0000"/>
<line x1="449.47" y1="216.8" x2="449.47" y2="229.0" stroke="#888888" stroke-width="1" stroke-dasharray="3.4 1.9"/>
<line x1="449.47" y1="258.7" x2="449.47" y2="269.4" stroke="#888888" stroke-width="1" stroke-dasharray="3.4 1.9"/>
<line x1="447.27" y1="216.8" x2="451.67" y2="216.8" stroke="#10a010" stroke-width="1.2"/>
<line x1="447.27" y1="269.4" x2="451.67" y2="269.4" stroke="#1010a0" stroke-width="1.2"/>
<rect x="445.47" y="229.0" width="8.0" height="29.70" fill="none" stroke="#8686ff" stroke-width="1"/>
<line x1="445.47" y1="244.9" x2="453.47" y2="244.9" stroke="#ff9a9a" stroke-width="1.5"/>
<circle cx="449.47" cy="216.80" r="1.25" fill="#00cc00"/>
<circle cx="449.47" cy="223.50" r="1.1" fill="#b8f0b8" stroke="#80e080" stroke-width="0.9"/>
<circle cx="449.47" cy="255.00" r="1.1" fill="#c8c8c8" stroke="#7a7a7a" stroke-width="0.9"/>
<circle cx="449.47" cy="269.40" r="1.25" fill="#0000d0"/>
<path d="M449.47 242.70 L451.22 244.80 L449.47 246.90 L447.72 244.80 Z" fill="#ff0000"/>
<line x1="466.50" y1="182.2" x2="466.50" y2="195.0" stroke="#888888" stroke-width="1" stroke-dasharray="3.4 1.9"/>
<line x1="466.50" y1="223.5" x2="466.50" y2="241.0" stroke="#888888" stroke-width="1" stroke-dasharray="3.4 1.9"/>
<line x1="464.30" y1="182.2" x2="468.70" y2="182.2" stroke="#10a010" stroke-width="1.2"/>
<line x1="464.30" y1="241.0" x2="468.70" y2="241.0" stroke="#000000" stroke-width="1.2"/>
<rect x="462.50" y="195.0" width="8.0" height="28.50" fill="none" stroke="#8686ff" stroke-width="1"/>
<line x1="462.50" y1="211.3" x2="470.50" y2="211.3" stroke="#ff9a9a" stroke-width="1.5"/>
<circle cx="466.50" cy="182.20" r="1.25" fill="#00cc00"/>
<circle cx="466.50" cy="189.00" r="1.1" fill="#c0c0ff" stroke="#6a6aff" stroke-width="0.9"/>
<circle cx="466.50" cy="222.00" r="1.25" fill="#0000d0"/>
<circle cx="466.50" cy="241.00" r="1.25" fill="#000000"/>
<path d="M466.50 209.20 L468.25 211.30 L466.50 213.40 L464.75 211.30 Z" fill="#ff0000"/>
<line x1="483.53" y1="136.7" x2="483.53" y2="152.2" stroke="#888888" stroke-width="1" stroke-dasharray="3.4 1.9"/>
<line x1="483.53" y1="195.1" x2="483.53" y2="207.6" stroke="#888888" stroke-width="1" stroke-dasharray="3.4 1.9"/>
<line x1="481.33" y1="136.7" x2="485.73" y2="136.7" stroke="#6060c8" stroke-width="1.2"/>
<line x1="481.33" y1="207.6" x2="485.73" y2="207.6" stroke="#606060" stroke-width="1.2"/>
<rect x="479.53" y="152.2" width="8.0" height="42.90" fill="none" stroke="#8686ff" stroke-width="1"/>
<line x1="479.53" y1="174.0" x2="487.53" y2="174.0" stroke="#ff9a9a" stroke-width="1.5"/>
<circle cx="483.53" cy="137.70" r="0.9" fill="#c0c0ff"/>
<circle cx="483.53" cy="148.90" r="1.1" fill="#b8f0b8" stroke="#80e080" stroke-width="0.9"/>
<circle cx="483.53" cy="162.90" r="1.25" fill="#00cc00"/>
<circle cx="483.53" cy="192.20" r="1.25" fill="#000000"/>
<circle cx="483.53" cy="196.00" r="1.25" fill="#0000d0"/>
<circle cx="483.53" cy="206.60" r="0.9" fill="#c8c8c8"/>
<path d="M483.53 171.90 L485.28 174.00 L483.53 176.10 L481.78 174.00 Z" fill="#ff0000"/>
<line x1="500.56" y1="174.8" x2="500.56" y2="191.4" stroke="#888888" stroke-width="1" stroke-dasharray="3.4 1.9"/>
<line x1="500.56" y1="244.5" x2="500.56" y2="253.0" stroke="#888888" stroke-width="1" stroke-dasharray="3.4 1.9"/>
<line x1="498.36" y1="174.8" x2="502.76" y2="174.8" stroke="#10a010" stroke-width="1.2"/>
<line x1="498.36" y1="253.0" x2="502.76" y2="253.0" stroke="#000000" stroke-width="1.2"/>
<rect x="496.56" y="191.4" width="8.0" height="53.10" fill="none" stroke="#8686ff" stroke-width="1"/>
<line x1="496.56" y1="217.5" x2="504.56" y2="217.5" stroke="#ff9a9a" stroke-width="1.5"/>
<circle cx="500.56" cy="174.80" r="1.25" fill="#00cc00"/>
<circle cx="500.56" cy="185.70" r="1.1" fill="#b8f0b8" stroke="#80e080" stroke-width="0.9"/>
<circle cx="500.56" cy="209.20" r="1.1" fill="#c0c0ff" stroke="#6a6aff" stroke-width="0.9"/>
<circle cx="500.56" cy="234.20" r="1.25" fill="#0000d0"/>
<circle cx="500.56" cy="247.70" r="1.1" fill="#c8c8c8" stroke="#7a7a7a" stroke-width="0.9"/>
<circle cx="500.56" cy="253.00" r="1.25" fill="#000000"/>
<path d="M500.56 215.40 L502.31 217.50 L500.56 219.60 L498.81 217.50 Z" fill="#ff0000"/>
<line x1="517.59" y1="172.9" x2="517.59" y2="186.3" stroke="#888888" stroke-width="1" stroke-dasharray="3.4 1.9"/>
<line x1="517.59" y1="248.6" x2="517.59" y2="255.8" stroke="#888888" stroke-width="1" stroke-dasharray="3.4 1.9"/>
<line x1="515.39" y1="172.9" x2="519.79" y2="172.9" stroke="#10a010" stroke-width="1.2"/>
<line x1="515.39" y1="255.8" x2="519.79" y2="255.8" stroke="#000000" stroke-width="1.2"/>
<rect x="513.59" y="186.3" width="8.0" height="62.30" fill="none" stroke="#8686ff" stroke-width="1"/>
<line x1="513.59" y1="227.2" x2="521.59" y2="227.2" stroke="#ff9a9a" stroke-width="1.5"/>
<circle cx="517.59" cy="172.90" r="1.25" fill="#00cc00"/>
<circle cx="517.59" cy="227.20" r="1.1" fill="#c0c0ff" stroke="#6a6aff" stroke-width="0.9"/>
<circle cx="517.59" cy="237.00" r="1.25" fill="#0000d0"/>
<circle cx="517.59" cy="251.70" r="1.1" fill="#c8c8c8" stroke="#7a7a7a" stroke-width="0.9"/>
<circle cx="517.59" cy="255.80" r="1.25" fill="#000000"/>
<path d="M517.59 218.20 L519.34 220.30 L517.59 222.40 L515.84 220.30 Z" fill="#ff0000"/>
<line x1="534.62" y1="158.9" x2="534.62" y2="176.2" stroke="#888888" stroke-width="1" stroke-dasharray="3.4 1.9"/>
<line x1="534.62" y1="217.0" x2="534.62" y2="262.0" stroke="#888888" stroke-width="1" stroke-dasharray="3.4 1.9"/>
<line x1="532.42" y1="158.9" x2="536.82" y2="158.9" stroke="#10a010" stroke-width="1.2"/>
<line x1="532.42" y1="262.0" x2="536.82" y2="262.0" stroke="#000000" stroke-width="1.2"/>
<rect x="530.62" y="176.2" width="8.0" height="40.80" fill="none" stroke="#8686ff" stroke-width="1"/>
<line x1="530.62" y1="201.7" x2="538.62" y2="201.7" stroke="#ff9a9a" stroke-width="1.5"/>
<circle cx="534.62" cy="158.90" r="1.25" fill="#00cc00"/>
<circle cx="534.62" cy="181.50" r="1.1" fill="#c0c0ff" stroke="#6a6aff" stroke-width="0.9"/>
<circle cx="534.62" cy="217.00" r="1.25" fill="#0000d0"/>
<circle cx="534.62" cy="262.00" r="1.25" fill="#000000"/>
<path d="M534.62 199.60 L536.37 201.70 L534.62 203.80 L532.87 201.70 Z" fill="#ff0000"/>
<rect x="41.3" y="37.8" width="84.9" height="109.2" fill="#fff" stroke="#9a9a9a" stroke-width="1"/>
<line x1="48.2" y1="43.7" x2="62.2" y2="43.7" stroke="#999999" stroke-width="1" stroke-dasharray="3.6 1.6"/>
<line x1="48.2" y1="59.7" x2="62.2" y2="59.7" stroke="#9a9aff" stroke-width="1" stroke-dasharray="3.6 1.6"/>
<text x="63.2" y="47.35" class="lg">all points mean</text>
<text x="63.2" y="58.05" class="lg">fresh water /</text>
<text x="63.2" y="68.75" class="lg">lagoon water</text>
<text x="63.2" y="79.65" class="lg">round 1</text>
<circle cx="55.40" cy="76.90" r="1.3" fill="#000000"/>
<text x="63.2" y="90.55" class="lg">round 2</text>
<circle cx="55.40" cy="87.80" r="1.5" fill="none" stroke="#7a7a7a" stroke-width="0.8"/>
<text x="63.2" y="101.55" class="lg">round 3</text>
<circle cx="55.40" cy="98.80" r="1.3" fill="#0000ff"/>
<text x="63.2" y="112.35" class="lg">round 4</text>
<circle cx="55.40" cy="109.60" r="1.5" fill="none" stroke="#6a6aff" stroke-width="0.8"/>
<text x="63.2" y="123.05" class="lg">round 5</text>
<circle cx="55.40" cy="120.30" r="1.3" fill="#00dd00"/>
<text x="63.2" y="133.85" class="lg">round 6</text>
<circle cx="55.40" cy="131.10" r="1.5" fill="none" stroke="#80e080" stroke-width="0.8"/>
<text x="63.2" y="144.75" class="lg">mean</text>
<circle cx="55.40" cy="142.00" r="1.3" fill="#ff0000"/>
<rect x="172.3" y="36.2" width="126" height="14.2" fill="#fff" stroke="#8a8a8a" stroke-width="1"/>
<text x="174.5" y="47" class="an">fresh water</text>
<line x1="223.1" y1="44.2" x2="236" y2="44.2" stroke="#666" stroke-width="0.9"/>
<path d="M239.6 44.2 L234.9 42.1 L235.9 44.2 L234.9 46.3 Z" fill="#111"/>
<text x="243" y="47" class="an">lagoon water</text>
<rect x="356" y="36.2" width="59" height="14.4" fill="#fff" stroke="#8a8a8a" stroke-width="1"/>
<text x="358.6" y="47" class="an">lagoon water</text>
<text x="41.9" y="199.2" class="an">mean 3.44 cm/day</text>
<line x1="78.3" y1="200.9" x2="90" y2="224" stroke="#333" stroke-width="0.7"/>
<path d="M91.4 227 L87.8 223.6 L91.4 222 Z" fill="#333"/>
<text x="29.9" y="19.5" class="big" textLength="35.4" lengthAdjust="spacingAndGlyphs">EAST</text>
<text x="504.1" y="19.8" class="big" textLength="39.7" lengthAdjust="spacingAndGlyphs">WEST</text>
<text x="245.3" y="351.3" class="lab" textLength="77.5" lengthAdjust="spacingAndGlyphs">Measuring points</text>
<text transform="translate(16.7 210.6) rotate(-90)" class="lab" textLength="62.6" lengthAdjust="spacingAndGlyphs">Flux (cm/day)</text>
</svg>
</body></html>
